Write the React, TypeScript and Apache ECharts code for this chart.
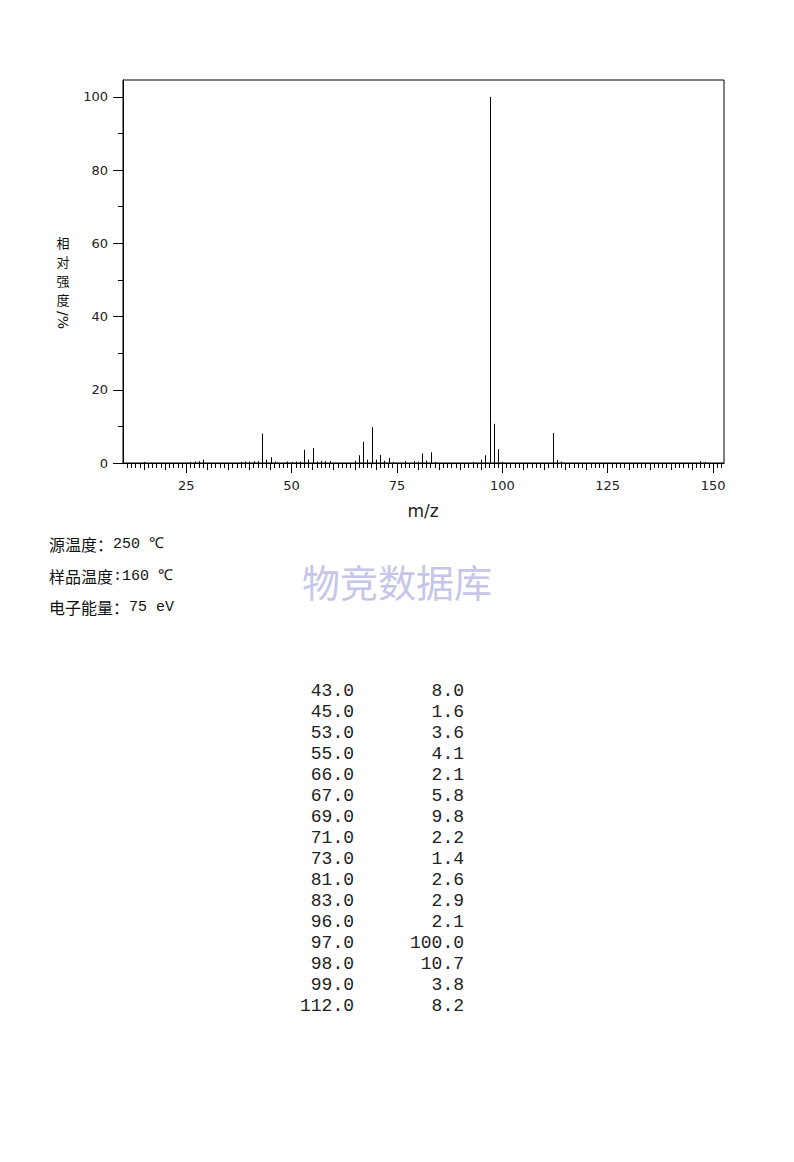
import React, { useEffect, useRef } from "react";
import * as echarts from "echarts";

// Peaks (m/z, relative intensity %)
const peakMz = [15, 26, 27, 28, 29, 38, 39, 40, 41, 42, 43, 44, 45, 46, 49, 50, 51, 52, 53, 54, 55, 56, 57, 58, 59, 65, 66, 67, 68, 69, 70, 71, 72, 73, 74, 77, 79, 80, 81, 82, 83, 84, 93, 95, 96, 97, 98, 99, 100, 112, 113, 114, 147, 148];
const peakInt = [0.3, 0.3, 0.4, 0.5, 0.9, 0.3, 0.4, 0.4, 0.5, 0.5, 8.0, 0.9, 1.6, 0.4, 0.4, 0.3, 0.4, 0.4, 3.6, 0.9, 4.1, 0.4, 0.6, 0.5, 0.5, 0.6, 2.1, 5.8, 0.9, 9.8, 0.9, 2.2, 0.6, 1.4, 0.3, 0.5, 0.5, 0.3, 2.6, 0.7, 2.9, 0.3, 0.3, 0.9, 2.1, 100, 10.7, 3.8, 0.3, 8.2, 0.8, 0.4, 0.5, 0.3];

// Table of main peaks
const tableMz = [43, 45, 53, 55, 66, 67, 69, 71, 73, 81, 83, 96, 97, 98, 99, 112];
const tableInt = [8.0, 1.6, 3.6, 4.1, 2.1, 5.8, 9.8, 2.2, 1.4, 2.6, 2.9, 2.1, 100.0, 10.7, 3.8, 8.2];

// Tick labels
const xLabelTicks = [25, 50, 75, 100, 125, 150];
const yLabelTicks = [0, 20, 40, 60, 80, 100];
const yMinorTicks = [10, 30, 50, 70, 90];

const yNameChars = ["相", "对", "强", "度"];

const X_MIN = 10;
const X_MAX = 152.6;
const Y_MAX = 104.6;

const unitTicks: number[] = [];
const fiveTicks: number[] = [];
for (let v = 11; v <= 152; v++) {
  unitTicks.push(v);
  if (v % 5 === 0) fiveTicks.push(v);
}

const infoLines = [
  { cjk: "源温度：", rest: "250 ℃" },
  { cjk: "样品温度", rest: ":160 ℃" },
  { cjk: "电子能量：", rest: "75 eV" },
];

export default function App() {
  const ref = useRef<HTMLDivElement>(null);
  useEffect(() => {
    if (!ref.current) return;
    const chart = echarts.init(ref.current, null, { renderer: "svg" });
    const black = "#000";
    const labelFont = { fontSize: 13, color: "#222", fontFamily: "DejaVu Sans" };

    const baseX = {
      type: "value" as const,
      min: X_MIN,
      max: X_MAX,
      position: "bottom" as const,
      splitLine: { show: false },
    };
    const baseY = {
      type: "value" as const,
      min: 0,
      max: Y_MAX,
      position: "left" as const,
      splitLine: { show: false },
    };

    const graphics: any[] = [];
    yNameChars.forEach((ch, i) => {
      graphics.push({
        type: "text",
        x: 63,
        y: 242 + i * 19,
        style: {
          text: ch,
          font: '13px "Noto Sans CJK SC"',
          fill: "#111",
          align: "center",
          verticalAlign: "middle",
        },
      });
    });
    graphics.push({
      type: "text",
      x: 63,
      y: 320,
      rotation: -Math.PI / 2,
      style: {
        text: "/%",
        font: '14px "DejaVu Sans"',
        fill: "#111",
        align: "center",
        verticalAlign: "middle",
      },
    });
    graphics.push({
      type: "text",
      x: 423,
      y: 511,
      style: {
        text: "m/z",
        font: '17px "DejaVu Sans"',
        fill: "#222",
        align: "center",
        verticalAlign: "middle",
      },
    });
    const infoY = [544, 576, 607];
    infoLines.forEach((ln, i) => {
      graphics.push({
        type: "text",
        x: 49,
        y: infoY[i],
        style: {
          text: `{a|${ln.cjk}}{b|${ln.rest}}`,
          verticalAlign: "middle",
          rich: {
            a: { font: '16px "Noto Sans CJK SC"', fill: "#111" },
            b: { font: '15px "Liberation Mono"', fill: "#111" },
          },
        },
      });
    });
    graphics.push({
      type: "text",
      x: 397,
      y: 580,
      style: {
        text: "物竞数据库",
        font: '38px "Noto Sans CJK SC"',
        fill: "#c6c6e8",
        align: "center",
        verticalAlign: "middle",
      },
    });
    tableMz.forEach((m, i) => {
      const y = 691 + i * 21;
      graphics.push({
        type: "text",
        x: 354,
        y,
        style: {
          text: m.toFixed(1),
          font: '18px "Liberation Mono"',
          fill: "#222",
          align: "right",
          verticalAlign: "middle",
        },
      });
      graphics.push({
        type: "text",
        x: 464,
        y,
        style: {
          text: tableInt[i].toFixed(1),
          font: '18px "Liberation Mono"',
          fill: "#222",
          align: "right",
          verticalAlign: "middle",
        },
      });
    });

    chart.setOption({
      animation: false,
      backgroundColor: "#fff",
      grid: {
        left: 123,
        right: 70,
        top: 80,
        bottom: 699,
        show: true,
        borderColor: black,
        borderWidth: 1,
        backgroundColor: "transparent",
      },
      xAxis: [
        {
          ...baseX,
          axisLine: { show: true, lineStyle: { color: black, width: 1 } },
          axisTick: { show: true, customValues: unitTicks, length: 5, lineStyle: { color: black } },
          axisLabel: { show: false },
        },
        {
          ...baseX,
          axisLine: { show: false },
          axisTick: { show: true, customValues: fiveTicks, length: 7, lineStyle: { color: black } },
          axisLabel: { show: false },
        },
        {
          ...baseX,
          axisLine: { show: false },
          axisTick: { show: true, customValues: xLabelTicks, length: 10, lineStyle: { color: black } },
          axisLabel: { show: true, customValues: xLabelTicks, margin: 16, ...labelFont },
        },
      ],
      yAxis: [
        {
          ...baseY,
          axisLine: { show: true, lineStyle: { color: black, width: 1 } },
          axisTick: { show: true, customValues: yLabelTicks, length: 10, lineStyle: { color: black } },
          axisLabel: { show: true, customValues: yLabelTicks, margin: 15, ...labelFont },
        },
        {
          ...baseY,
          axisLine: { show: false },
          axisTick: { show: true, customValues: yMinorTicks, length: 5, lineStyle: { color: black } },
          axisLabel: { show: false },
        },
      ],
      graphic: graphics,
      series: [
        {
          type: "custom",
          xAxisIndex: 0,
          yAxisIndex: 0,
          data: peakMz.map((m, i) => [m, peakInt[i]]),
          encode: { x: 0, y: 1 },
          clip: true,
          renderItem: (params: any, api: any) => {
            const x = api.value(0);
            const y = api.value(1);
            const p0 = api.coord([x, 0]);
            const p1 = api.coord([x, y]);
            const px = Math.round(p0[0]) + 0.5;
            return {
              type: "line",
              shape: { x1: px, y1: p0[1], x2: px, y2: p1[1] },
              style: { stroke: black, lineWidth: 1 },
            };
          },
        },
      ],
    });
    return () => chart.dispose();
  }, []);
  return (
    <div
      ref={ref}
      style={{ position: "absolute", left: 0, top: 0, width: 794, height: 1162, background: "#fff" }}
    />
  );
}
